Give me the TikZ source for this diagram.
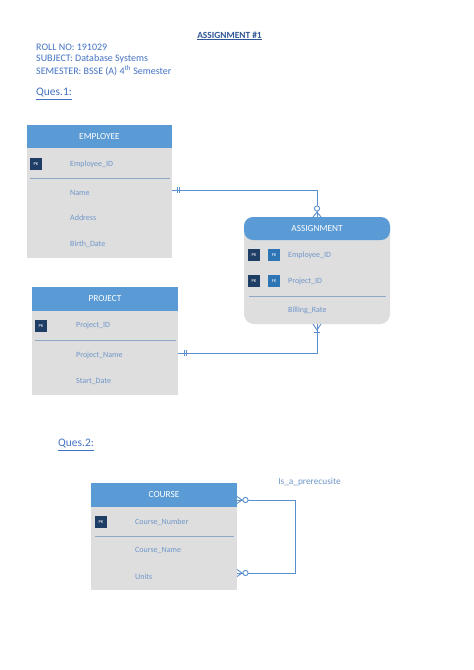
\documentclass[tikz,border=0pt]{standalone}
\usepackage{fontspec}
\setmainfont{Carlito}
\definecolor{hdr}{HTML}{5B9BD5}
\definecolor{bodyg}{HTML}{DEDEDE}
\definecolor{attr}{HTML}{6E96C9}
\definecolor{pkc}{HTML}{1F3E66}
\definecolor{fkc}{HTML}{2E75B6}
\definecolor{conn}{HTML}{5A8FCF}
\definecolor{txt}{HTML}{4472C4}
\definecolor{ttl}{HTML}{2F5597}
\definecolor{sep}{HTML}{8FA8C8}
\tikzset{
  hdrbox/.style={fill=hdr, text=white, font=\fontsize{9.3}{11}\selectfont, inner sep=0pt},
  bodybox/.style={fill=bodyg, inner sep=0pt},
  attrtxt/.style={text=attr, font=\fontsize{8}{10}\selectfont, anchor=west, inner sep=0pt},
  keybox/.style={fill=pkc, text=white, font=\fontsize{4.5}{5}\selectfont, minimum size=12pt, inner sep=0pt},
  fkbox/.style={keybox, fill=fkc},
  sepline/.style={draw=sep, line width=0.6pt},
  conn/.style={draw=conn, line width=0.9pt},
  headtxt/.style={text=txt, font=\fontsize{10}{12}\selectfont, anchor=west, inner sep=0pt},
  questxt/.style={text=txt, font=\fontsize{11.5}{13}\selectfont, anchor=west, inner sep=0pt},
  ringmark/.style={draw=conn, fill=white, line width=0.9pt}
}
\begin{document}
\begin{tikzpicture}[x=1pt,y=-1pt]
\useasboundingbox (0,0) rectangle (474,670);
\fill[white] (0,0) rectangle (474,670);

% heading
\node[text=ttl, font=\bfseries\fontsize{9.4}{11}\selectfont, inner sep=0pt] (title) at (229.5,36) {\underline{ASSIGNMENT \#1}};
\node[headtxt] (roll) at (36,47) {ROLL NO: 191029};
\node[headtxt] (subj) at (36,59) {SUBJECT: Database Systems};
\node[headtxt] (sem) at (36,71) {SEMESTER: BSSE (A) 4\textsuperscript{th} Semester};
\node[questxt] (q1) at (36,94) {\underline{Ques.1:}};
\node[questxt] (q2) at (58,445) {\underline{Ques.2:}};

% EMPLOYEE
\node[bodybox, minimum width=145pt, minimum height=110pt] (empbody) at (99.5,203) {};
\node[hdrbox, minimum width=145pt, minimum height=23pt] (emp) at (99.5,136.5) {EMPLOYEE};
\node[keybox] (emppk) at (36,164) {PK};
\node[attrtxt] (empid) at (70,164) {Employee\_ID};
\draw[sepline] (30,178) -- (170,178);
\node[attrtxt] (empname) at (70,193) {Name};
\node[attrtxt] (empaddr) at (70,218) {Address};
\node[attrtxt] (empbd) at (70,244) {Birth\_Date};

% ASSIGNMENT
\node[bodybox, rounded corners=10pt, minimum width=146pt, minimum height=107pt] (asg) at (317,270.5) {};
\node[hdrbox, rounded corners=9pt, minimum width=146pt, minimum height=23pt] (asgh) at (317,228.5) {ASSIGNMENT};
\node[keybox] (asgpk1) at (254,255) {PK};
\node[fkbox] (asgfk1) at (274,255) {FK};
\node[attrtxt] (asgeid) at (288,255) {Employee\_ID};
\node[keybox] (asgpk2) at (254,281) {PK};
\node[fkbox] (asgfk2) at (274,281) {FK};
\node[attrtxt] (asgpid) at (288,281) {Project\_ID};
\draw[sepline] (249,296) -- (386,296);
\node[attrtxt] (asgbr) at (288,310) {Billing\_Rate};

% PROJECT
\node[bodybox, minimum width=146pt, minimum height=84pt] (prjbody) at (105,353) {};
\node[hdrbox, minimum width=146pt, minimum height=24pt] (prj) at (105,299) {PROJECT};
\node[keybox] (prjpk) at (41,326) {PK};
\node[attrtxt] (prjid) at (76,325) {Project\_ID};
\draw[sepline] (35,340) -- (176,340);
\node[attrtxt] (prjname) at (76,355) {Project\_Name};
\node[attrtxt] (prjsd) at (76,381) {Start\_Date};

% COURSE
\node[bodybox, minimum width=146pt, minimum height=83pt] (crsbody) at (164,548.5) {};
\node[hdrbox, minimum width=146pt, minimum height=24pt] (crs) at (164,495) {COURSE};
\node[keybox] (crspk) at (101,522) {PK};
\node[attrtxt] (crsnum) at (135,522) {Course\_Number};
\draw[sepline] (95,536) -- (234,536);
\node[attrtxt] (crsname) at (135,550) {Course\_Name};
\node[attrtxt] (crsunits) at (135,577) {Units};
\node[text=attr, font=\fontsize{9.3}{11}\selectfont, inner sep=0pt] (rel) at (309.5,482) {Is\_a\_prerecusite};

% connector EMPLOYEE - ASSIGNMENT
\coordinate (c1) at (172,190);
\coordinate (c1t) at (317,217);
\draw[conn] (c1) -| (c1t);
\draw[conn] (177,187) -- (177,193) (179.5,187) -- (179.5,193);
\draw[conn] (313,217) -- (317,212) -- (321,217);
\draw[ringmark] (317,208.5) circle (2.6pt);

% connector PROJECT - ASSIGNMENT
\coordinate (c2) at (178,353);
\coordinate (c2t) at (317,324);
\draw[conn] (c2) -| (c2t);
\draw[conn] (184,350) -- (184,356) (186.5,350) -- (186.5,356);
\draw[conn] (313,324) -- (317,330) -- (321,324);
\draw[conn] (314,332.5) -- (320,332.5);

% COURSE self relationship
\coordinate (s1) at (237,500);
\coordinate (s2) at (237,573);
\draw[conn] (s1) -- (295,500) -- (295,573) -- (s2);
\draw[conn] (237,496.5) -- (242,500) -- (237,503.5);
\draw[conn] (237,569.5) -- (242,573) -- (237,576.5);
\draw[ringmark] (245.5,500) circle (2.6pt);
\draw[ringmark] (245.5,573) circle (2.6pt);
\end{tikzpicture}
\end{document}
